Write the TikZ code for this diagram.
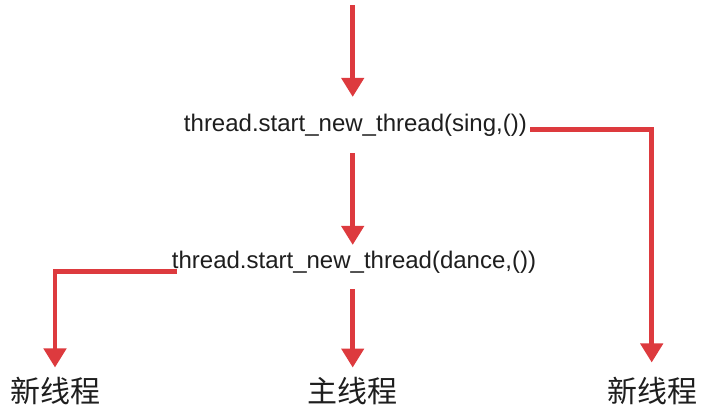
\documentclass[tikz,border=0pt]{standalone}
\usepackage{fontspec}
\setmainfont{Liberation Sans}
\newfontfamily\cjk{Noto Sans CJK SC}
\usetikzlibrary{arrows.meta,calc}
\definecolor{pen}{RGB}{221,58,62}
\definecolor{ink}{RGB}{30,30,30}
\begin{document}
\begin{tikzpicture}[x=1pt,y=-1pt,
  arr/.style={draw=pen,line width=4.5pt,-{Triangle[width=22pt,length=19pt]}},
  code/.style={inner sep=0pt,anchor=base,text=ink,font=\fontsize{24}{28}\selectfont},
  lbl/.style={inner sep=0pt,anchor=base,text=ink,font=\cjk\fontsize{30}{34}\selectfont}]
\useasboundingbox[fill=white] (0,0) rectangle (708,407);
\coordinate (top) at (352.7,5);
\node[code] (t1) at (355.4,131.5) {thread.start\_new\_thread(sing,())};
\node[code] (t2) at (354,268.3) {thread.start\_new\_thread(dance,())};
\node[lbl] (L) at (55,402) {新线程};
\node[lbl] (M) at (352.5,402) {主线程};
\node[lbl] (R) at (652.4,402) {新线程};
\draw[arr,shorten >=17pt] (top) -- (top |- t1.north);
\draw[arr,shorten <=16.5pt,shorten >=5.8pt] (top |- t1.south) -- (top |- t2.north);
\draw[arr,shorten <=15.7pt,shorten >=9pt] (top |- t2.south) -- (top |- M.north);
\draw[arr,shorten >=14pt] ([xshift=3pt,yshift=2pt]t1.base east) -| ([xshift=-0.7pt]R.north);
\draw[arr,shorten >=9pt] ([xshift=5pt,yshift=-3.4pt]t2.base west) -| (L.north);
\end{tikzpicture}
\end{document}
